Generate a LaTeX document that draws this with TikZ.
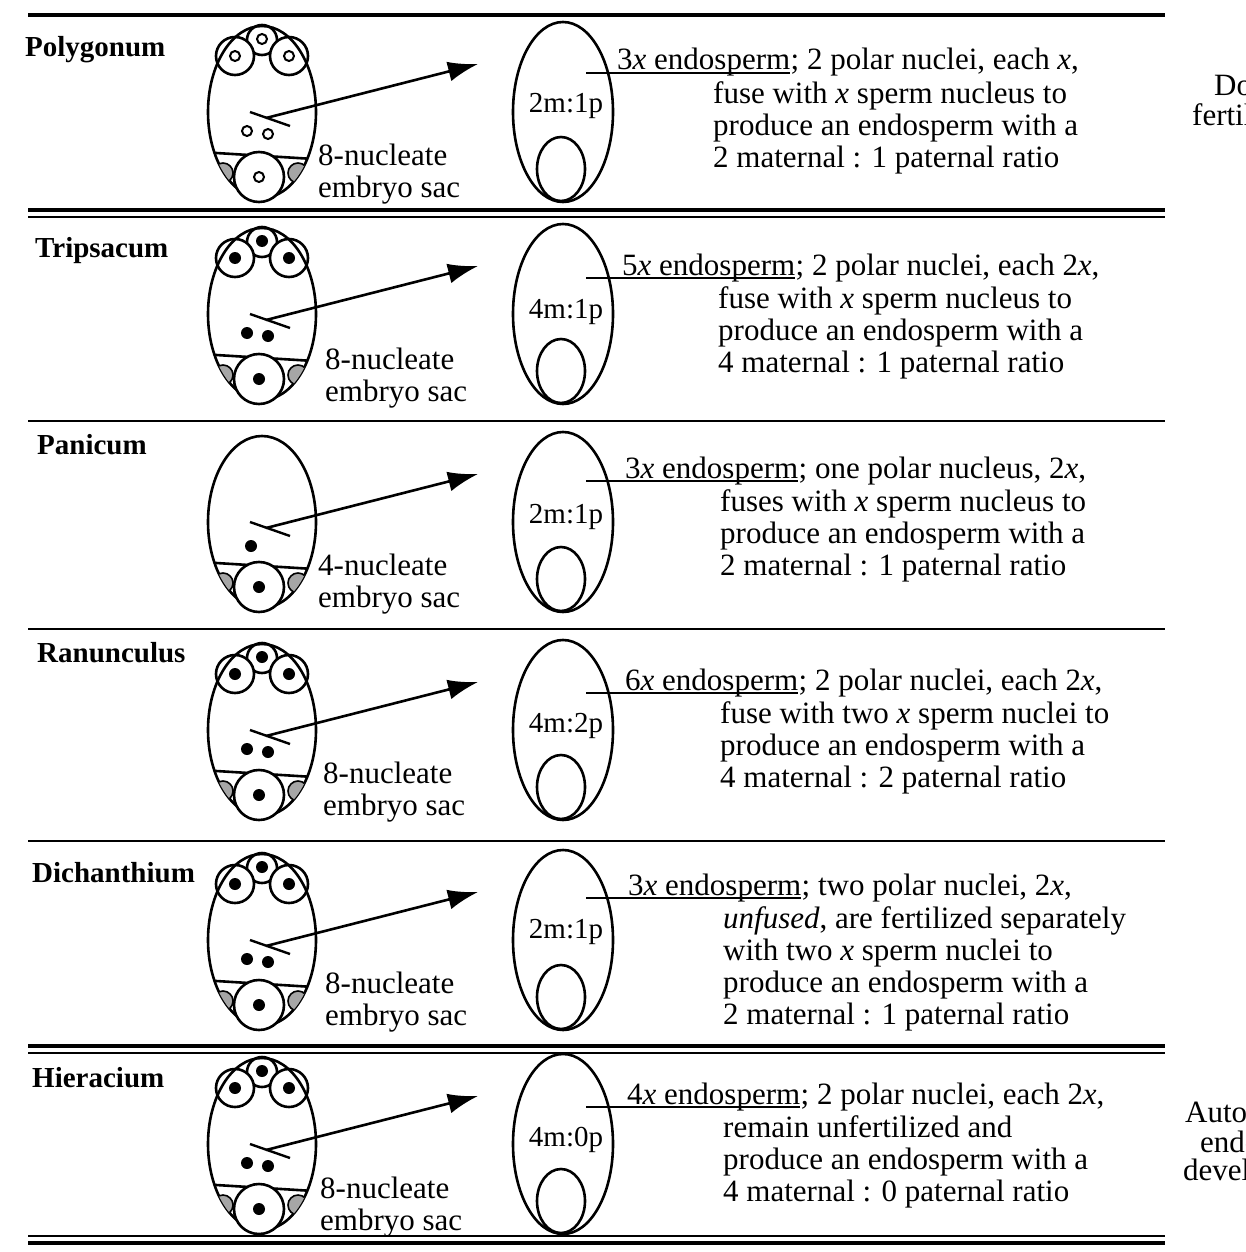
\documentclass[tikz,border=0pt]{standalone}
\usepackage{fontspec}
\setmainfont{Liberation Serif}
\usetikzlibrary{arrows.meta}
\tikzset{
 ln/.style={line width=2.6pt},
 txt/.style={font=\fontsize{31}{32}\selectfont,inner sep=0pt},
 ratio/.style={font=\fontsize{29}{30}\selectfont,inner sep=0pt},
 rowname/.style={font=\fontsize{29}{30}\selectfont\bfseries,anchor=base west,inner sep=0pt},
 body/.style={txt,align=left,anchor=north west},
 arr/.style={line width=2.6pt,-{Latex[length=30pt,width=20pt]}},
 rule/.style={line width=1.8pt},
 thick rule/.style={line width=4pt}
}
% #1 offset, #2 kind (1 hollow, 2 filled, 3 panicum)
\newcommand\drawsac[2]{%
 \begin{scope}[yshift=-#1pt]
 \ifnum#2=3\else
  \draw[ln,fill=white] (262,40) circle (15);
  \draw[ln,fill=white] (235,56) circle (19);
  \draw[ln,fill=white] (289,56) circle (19);
  \ifnum#2=1
   \draw[line width=2pt] (262,39) circle (5) (235,56) circle (5) (289,56) circle (5);
  \else
   \fill (262,39) circle (6) (235,56) circle (6) (289,56) circle (6);
  \fi
 \fi
 \draw[ln] (262,112) ellipse (54 and 86);
 \begin{scope}
  \clip (262,112) ellipse (54 and 86);
  \draw[ln] (200,152) -- (330,160);
  \fill[gray!70] (223,173) circle (10) (298,173) circle (10);
  \draw[line width=1.6pt] (223,173) circle (10) (298,173) circle (10);
 \end{scope}
 \draw[ln,fill=white] (259,177) circle (25);
 \ifnum#2=1
  \draw[line width=2pt] (259,177) circle (5) (247,131) circle (5) (268,134) circle (5);
 \else
  \fill (259,177) circle (6);
  \ifnum#2=3 \fill (251,136) circle (6);
  \else \fill (247,131) circle (6) (268,134) circle (6); \fi
 \fi
 \draw[line width=2.4pt] (250,112) -- (290,126);
 \coordinate (tk#1) at (266,118);
 \coordinate (ah#1) at (478,64);
 \draw[arr] (tk#1) -- (ah#1);
 % endosperm
 \draw[ln] (563,112) ellipse (50 and 90);
 \draw[ln] (561,169) ellipse (24 and 32);
 \end{scope}}
\begin{document}
\begin{tikzpicture}[x=1pt,y=-1pt]
\useasboundingbox (0,0) rectangle (1246,1252);
\clip (0,0) rectangle (1246,1252);
\fill[white] (0,0) rectangle (1246,1252);
% rules
\draw[thick rule] (28,15) -- (1165,15);
\draw[thick rule] (28,210) -- (1165,210); \draw[rule] (28,217) -- (1165,217);
\draw[rule] (28,421) -- (1165,421);
\draw[rule] (28,629) -- (1165,629);
\draw[rule] (28,841) -- (1165,841);
\draw[thick rule] (28,1046) -- (1165,1046); \draw[rule] (28,1053) -- (1165,1053);
\draw[thick rule] (28,1243) -- (1165,1243); \draw[rule] (28,1236) -- (1165,1236);
% sacs
\drawsac{0}{1}
\drawsac{202}{2}
\drawsac{410}{3}
\drawsac{618}{2}
\drawsac{828}{2}
\drawsac{1032}{2}
% row names
\node[rowname] (n1) at (25,57) {Polygonum};
\node[rowname] (n2) at (35,257) {Tripsacum};
\node[rowname] (n3) at (37,454) {Panicum};
\node[rowname] (n4) at (37,662) {Ranunculus};
\node[rowname] (n5) at (32,882) {Dichanthium};
\node[rowname] (n6) at (32,1087) {Hieracium};
% sac labels
\node[body] (s1) at (318,144) {8-nucleate\\embryo sac};
\node[body] (s2) at (325,348) {8-nucleate\\embryo sac};
\node[body] (s3) at (318,554) {4-nucleate\\embryo sac};
\node[body] (s4) at (323,762) {8-nucleate\\embryo sac};
\node[body] (s5) at (325,972) {8-nucleate\\embryo sac};
\node[body] (s6) at (320,1177) {8-nucleate\\embryo sac};
% ratios
\node[ratio] (r1) at (566,106) {2m:1p};
\node[ratio] (r2) at (566,312) {4m:1p};
\node[ratio] (r3) at (566,517) {2m:1p};
\node[ratio] (r4) at (566,726) {4m:2p};
\node[ratio] (r5) at (566,932) {2m:1p};
\node[ratio] (r6) at (566,1140) {4m:0p};
% endosperm texts
\newcommand\etext[7]{% #1 name #2 y base #3 x head #4 head #5 rest #6 body x #7 body
 \coordinate (u#1) at (586,#2+3);
 \node[txt,anchor=base west] (h#1) at (#3,#2) {#4};
 \node[txt,anchor=base west] (f#1) at (h#1.base east) {#5};
 \draw[line width=1.8pt] (u#1) -- ([yshift=-3pt]h#1.base east);
 \node[body] (b#1) at (#6,#2+11) {#7};}
\etext{1}{70}{617}{3\textit{x} endosperm}{; 2 polar nuclei, each \textit{x},}{713}{fuse with \textit{x} sperm nucleus to\\produce an endosperm with a\\2 maternal : 1 paternal ratio}
\etext{2}{275}{622}{5\textit{x} endosperm}{; 2 polar nuclei, each 2\textit{x},}{718}{fuse with \textit{x} sperm nucleus to\\produce an endosperm with a\\4 maternal : 1 paternal ratio}
\etext{3}{478}{625}{3\textit{x} endosperm}{; one polar nucleus, 2\textit{x},}{720}{fuses with \textit{x} sperm nucleus to\\produce an endosperm with a\\2 maternal : 1 paternal ratio}
\etext{4}{690}{625}{6\textit{x} endosperm}{; 2 polar nuclei, each 2\textit{x},}{720}{fuse with two \textit{x} sperm nuclei to\\produce an endosperm with a\\4 maternal : 2 paternal ratio}
\etext{5}{895}{628}{3\textit{x} endosperm}{; two polar nuclei, 2\textit{x},}{723}{\textit{unfused}, are fertilized separately\\with two \textit{x} sperm nuclei to\\produce an endosperm with a\\2 maternal : 1 paternal ratio}
\etext{6}{1104}{627}{4\textit{x} endosperm}{; 2 polar nuclei, each 2\textit{x},}{723}{remain unfertilized and\\produce an endosperm with a\\4 maternal : 0 paternal ratio}
% side notes
\node[txt,anchor=base west] (d1) at (1214,96) {Double};
\node[txt,anchor=base west] (d2) at (1192,126) {fertilization};
\node[txt,anchor=base west] (a1) at (1185,1122) {Autonomous};
\node[txt,anchor=base west] (a2) at (1200,1152) {endosperm};
\node[txt,anchor=base west] (a3) at (1183,1180) {development};
\end{tikzpicture}
\end{document}
